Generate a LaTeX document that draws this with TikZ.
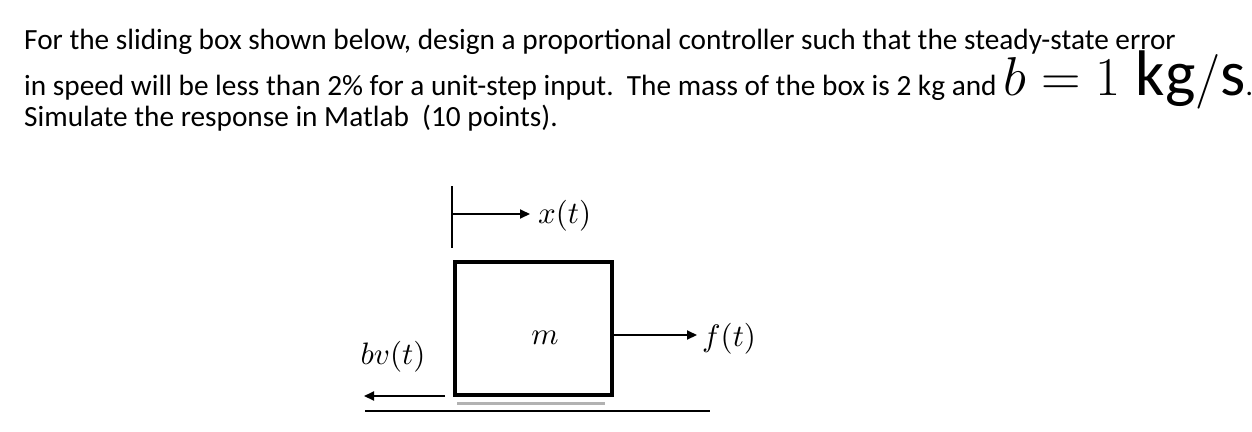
\documentclass[tikz,border=0pt]{standalone}
\usepackage{fontspec}
\setmainfont{Carlito}
\usetikzlibrary{arrows.meta}
\newcommand{\biglab}[1]{\scalebox{3.1}{$#1$}}
\begin{document}
\begin{tikzpicture}[x=1pt,y=-1pt,
  txt/.style={anchor=west,inner sep=0pt,font=\fontsize{29.3}{34}\selectfont},
  lab/.style={inner sep=0pt},
  arr/.style={line width=2pt,-{Triangle[length=10pt,width=9pt]}}]
\useasboundingbox (0,0) rectangle (1252,431);
\node[txt] (l1) at (24,42) {For the sliding box shown below, design a proportional controller such that the steady-state error};
\node[txt] (l2) at (24,80) {in speed will be less than 2\% for a unit-step input.\ \ The mass of the box is 2 kg and \scalebox{2.2}{$b=1\ \mathrm{kg/s}$}.};
\node[txt] (l3) at (24,118) {Simulate the response in Matlab\ \ (10 points).};
\draw[line width=4pt, fill=white] (455,262) rectangle (612,395);
\coordinate (box) at (533.5,328);
\node[lab] (m) at (545,338) {\biglab{m}};
\draw[line width=1.5pt] (452,186) -- (452,248);
\coordinate (xs) at (452,214);
\node[lab,anchor=west] (x) at (538,216) {\biglab{x(t)}};
\draw[arr] (xs) -- (530,214);
\coordinate (fs) at (614,335);
\node[lab,anchor=west] (f) at (702,339) {\biglab{f(t)}};
\draw[arr] (fs) -- (697,335);
\node[lab] (bv) at (393,357) {\biglab{bv(t)}};
\coordinate (bs) at (445,396);
\draw[arr] (bs) -- (364,396);
\draw[line width=3pt, gray!60] (457,403) -- (605,403);
\draw[line width=2.5pt] (365,411) -- (710,411);
\end{tikzpicture}
\end{document}
